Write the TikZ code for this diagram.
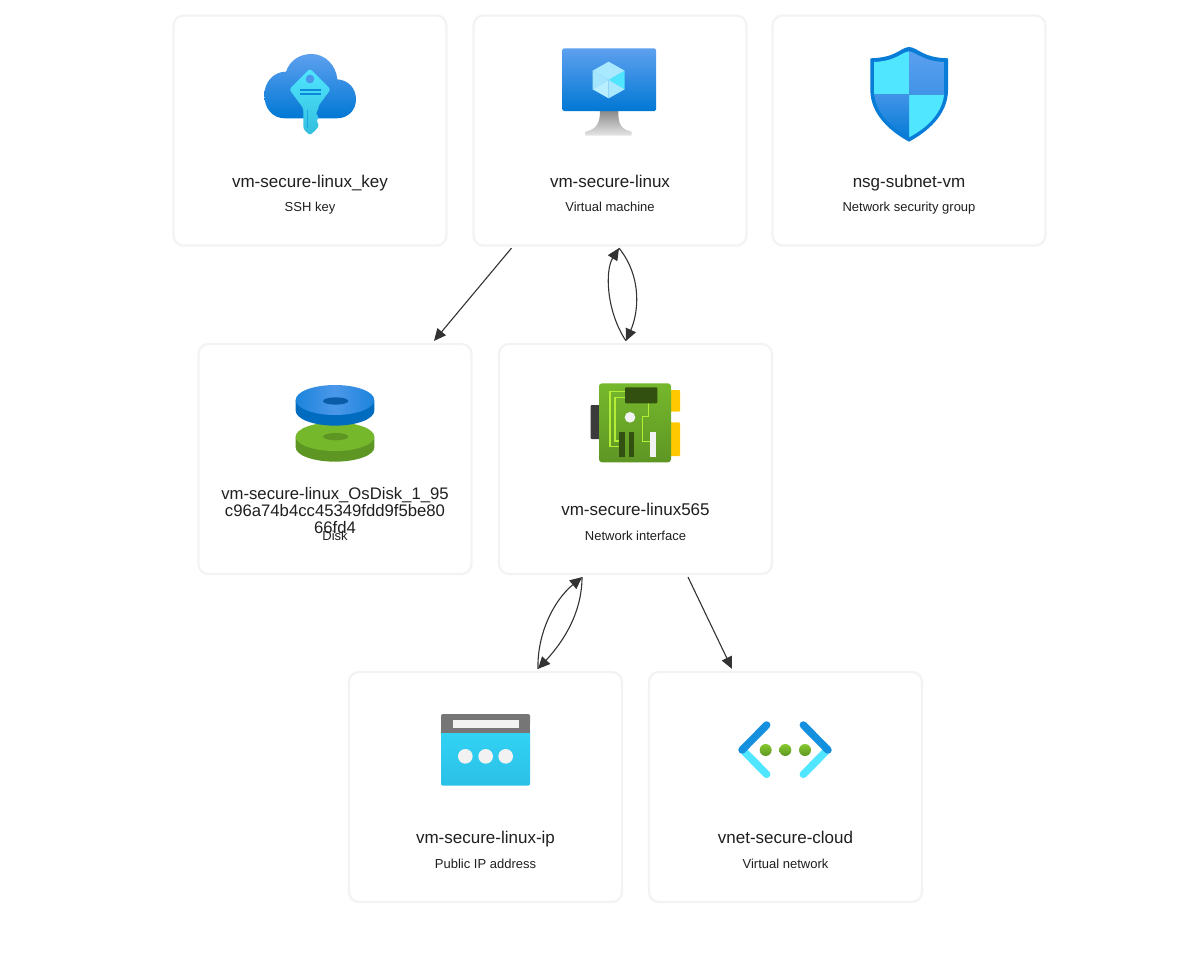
\documentclass[tikz,border=0pt]{standalone}
\usepackage{fontspec}
\setmainfont{Liberation Sans}
\usetikzlibrary{arrows.meta,calc}
\definecolor{cardline}{HTML}{F3F3F3}
\definecolor{txt}{HTML}{1F1F1F}
\definecolor{azlight}{HTML}{5EA0EF}
\definecolor{azblue}{HTML}{0078D4}
\definecolor{azcyan}{HTML}{50E6FF}
\definecolor{keybot}{HTML}{32BEDD}
\definecolor{arrowc}{HTML}{333333}
\definecolor{standA}{HTML}{8A8A8A}
\definecolor{standB}{HTML}{E6E6E6}
\definecolor{cubeA}{HTML}{A8E9FF}
\definecolor{cubeB}{HTML}{A3E6FD}
\definecolor{cubeC}{HTML}{B8EEFF}
\definecolor{diskgL}{HTML}{76B82C}
\definecolor{diskgD}{HTML}{5E9624}
\definecolor{diskhole}{HTML}{0A5CA8}
\definecolor{nicdark}{HTML}{3B3B3B}
\definecolor{nicyellow}{HTML}{FFC800}
\definecolor{nicbot}{HTML}{5E9624}
\definecolor{niclime}{HTML}{B4EC36}
\definecolor{nicchip}{HTML}{32500F}
\definecolor{iconwhite}{HTML}{F2F2F2}
\definecolor{ipA}{HTML}{32D4F5}
\definecolor{ipB}{HTML}{2BC0E6}
\definecolor{nicgray}{HTML}{767676}
\definecolor{vnetblue}{HTML}{1490DF}
\definecolor{dotA}{HTML}{86C92F}
\tikzset{
  azcardbox/.style={draw=cardline,line width=2.2pt,fill=white,rounded corners=10pt,minimum width=273pt,minimum height=230pt,inner sep=0pt},
  cardtitle/.style={anchor=base,text=txt,font=\fontsize{17}{17}\selectfont,align=center,inner sep=0pt},
  cardsub/.style={anchor=base,text=txt,font=\fontsize{13}{14}\selectfont,inner sep=0pt},
  conn/.style={draw=arrowc,line width=1.1pt,-{Triangle[length=12pt,width=11pt]}},
  iconscope/.style={shift={#1},scale=1/3}
}
\newcommand{\azcard}[5]{%
  \node[azcardbox] (#1) at (#2,#3) {};
  \node[cardtitle] (#1title) at (#2,#3+56.5) {#4};
  \node[cardsub] (#1sub) at (#2,#3+81) {#5};
}
\begin{document}
\begin{tikzpicture}[x=1pt,y=-1pt]
\fill[white] (0,0) rectangle (1200,980);
\useasboundingbox (0,0) rectangle (1200,980);

\azcard{key}{310}{130.5}{vm-secure-linux\_key}{SSH key}
\azcard{vm}{610}{130.5}{vm-secure-linux}{Virtual machine}
\azcard{nsg}{909}{130.5}{nsg-subnet-vm}{Network security group}
\node[azcardbox] (disk) at (335,459) {};
\node[cardtitle,font=\fontsize{16.7}{17}\selectfont] (disktitle) at (335,533) {vm-secure-linux\_OsDisk\_1\_95\\c96a74b4cc45349fdd9f5be80\\66fd4};
\node[cardsub] (disksub) at (335,540) {Disk};
\azcard{nic}{635.5}{459}{vm-secure-linux565}{Network interface}
\azcard{ip}{485.5}{787}{vm-secure-linux-ip}{Public IP address}
\azcard{vnet}{785.5}{787}{vnet-secure-cloud}{Virtual network}

% connectors
\coordinate (vmA) at ([xshift=-98.5pt,yshift=-1.5pt]vm.south);
\coordinate (diskA) at ([xshift=99pt,yshift=2pt]disk.north);
\draw[conn] (vmA) -- (diskA);
\coordinate (vmB) at ([xshift=9pt,yshift=-1.5pt]vm.south);
\coordinate (nicB) at ([xshift=-9.5pt,yshift=2pt]nic.north);
\draw[conn] (nicB) .. controls +(-20,-30) and +(-14,22) .. (vmB);
\draw[conn] (vmB) .. controls +(24,30) and +(12,-27) .. (nicB);
\coordinate (nicC) at ([xshift=-53.5pt,yshift=-2pt]nic.south);
\coordinate (ipC) at ([xshift=52.5pt,yshift=2pt]ip.north);
\draw[conn] (ipC) .. controls +(-1,-34) and +(-29,24) .. (nicC);
\draw[conn] (nicC) .. controls +(0,34) and +(27,-29) .. (ipC);
\coordinate (nicD) at ([xshift=52.5pt,yshift=-2pt]nic.south);
\coordinate (vnetD) at ([xshift=-53.5pt,yshift=2pt]vnet.north);
\draw[conn] (nicD) -- (vnetD);

% SSH key icon
\begin{scope}[iconscope={(250,30)}]
\shade[top color=azlight,bottom color=azblue] (105,265) .. controls (66,265) and (43,234) .. (43,195) .. controls (43,157) and (70,125) .. (108,125) .. controls (120,90) and (150,72) .. (185,72) .. controls (225,72) and (258,105) .. (262,148) .. controls (295,150) and (318,175) .. (318,208) .. controls (318,240) and (295,265) .. (260,265) -- cycle;
\shade[top color=azcyan,bottom color=keybot,rounded corners=2.5pt] (180,116) -- (242,178) -- (205,228) -- (205,240) -- (196,250) -- (208,262) -- (198,272) -- (208,285) -- (200,297) -- (180,316) -- (160,297) -- (160,235) -- (118,178) -- cycle;
\fill[azlight!80!azblue] (180,147) circle (13);
\draw[azblue!85!azcyan,line width=1.3pt] (150,180) -- (213,180) (150,192) -- (213,192);
\draw[azblue!60!azcyan,line width=1pt] (172,240) -- (172,295);
\end{scope}

% VM icon
\begin{scope}[iconscope={(550,35)}]
\shade[top color=standA,bottom color=standB] (150,228) -- (205,228) .. controls (205,265) and (210,282) .. (245,290) -- (245,302) -- (107,302) -- (107,290) .. controls (140,282) and (150,265) .. (150,228) -- cycle;
\shade[top color=azlight,bottom color=azblue,rounded corners=1.5pt] (37,40) rectangle (318,228);
\fill[cubeA] (128,107) -- (176,80) -- (224,107) -- (176,135) -- cycle;
\fill[azcyan] (224,107) -- (224,163) -- (176,135) -- cycle;
\fill[cubeB] (128,107) -- (128,163) -- (176,135) -- cycle;
\fill[cubeC] (128,163) -- (176,135) -- (176,190) -- cycle;
\fill[cubeA] (224,163) -- (176,135) -- (176,190) -- cycle;
\end{scope}

% NSG icon
\begin{scope}[iconscope={(855,35)}]
\fill[azblue!90!azlight] (162,36) .. controls (135,38) and (125,68) .. (46,70) -- (46,165) .. controls (46,240) and (110,292) .. (162,320) .. controls (215,292) and (279,240) .. (279,165) -- (279,70) .. controls (200,68) and (190,38) .. (162,36) -- cycle;
\begin{scope}
\clip (162,49) .. controls (138,52) and (125,78) .. (57,81) -- (57,165) .. controls (57,235) and (115,282) .. (162,307) .. controls (210,282) and (268,235) .. (268,165) -- (268,81) .. controls (200,78) and (186,52) .. (162,49) -- cycle;
\fill[azcyan] (40,30) rectangle (162,177);
\fill[azcyan] (162,177) rectangle (285,325);
\shade[top color=azlight,bottom color=azlight!70!azblue] (162,30) rectangle (285,177);
\shade[top color=azlight!70!azblue,bottom color=azblue] (40,177) rectangle (162,325);
\end{scope}
\end{scope}

% Disk icon
\begin{scope}[iconscope={(280,375)}]
\fill[diskgD] (47,185) -- (47,217) arc[start angle=180,end angle=0,x radius=118,y radius=43] -- (283,185) -- cycle;
\fill[diskgL] (165,185) ellipse [x radius=118,y radius=43];
\fill[diskgD] (167,185) ellipse [x radius=38,y radius=11];
\fill[azblue!90!black] (47,75) -- (47,107) arc[start angle=180,end angle=0,x radius=118,y radius=45] -- (283,75) -- cycle;
\shade[left color=azblue!70!azlight,right color=azblue!70!azlight,middle color=azlight!80!azblue] (165,75) ellipse [x radius=118,y radius=45];
\fill[diskhole] (167,78) ellipse [x radius=38,y radius=11];
\end{scope}

% NIC icon
\begin{scope}[iconscope={(580,375)}]
\fill[nicdark,rounded corners=1pt] (32,90) rectangle (60,192);
\fill[nicyellow,rounded corners=1pt] (268,45) rectangle (300,110);
\fill[nicyellow,rounded corners=1pt] (268,142) rectangle (300,243);
\shade[top color=diskgL,bottom color=nicbot,rounded corners=3pt] (57,25) rectangle (273,262);
\draw[niclime,line width=1.4pt] (135,50) -- (90,50) -- (90,215) -- (116,215);
\draw[niclime,line width=1.4pt] (135,68) -- (105,68) -- (105,198) -- (116,198);
\draw[niclime,line width=1.4pt] (205,85) -- (205,125) -- (187,125) -- (187,200) -- (211,200);
\fill[nicchip,rounded corners=1pt] (135,37) rectangle (232,85);
\fill[nicchip] (116,170) rectangle (134,247);
\fill[nicchip] (146,170) rectangle (163,247);
\fill[iconwhite] (211,170) rectangle (228,247);
\fill[iconwhite] (150,127) circle (16);
\end{scope}

% Public IP icon
\begin{scope}[iconscope={(430,705)}]
\shade[top color=ipA,bottom color=ipB,rounded corners=2pt] (33,70) rectangle (300,242);
\fill[nicgray,rounded corners=2pt] (33,27) rectangle (300,60);
\fill[nicgray] (33,50) rectangle (300,83);
\fill[iconwhite] (68,45) rectangle (266,68);
\fill[iconwhite] (106,154) circle (22);
\fill[iconwhite] (167,154) circle (22);
\fill[iconwhite] (227,154) circle (22);
\end{scope}

% Virtual network icon
\begin{scope}[iconscope={(730,710)}]
\draw[azcyan,line width=7.5pt,line cap=round] (45,127) -- (110,193);
\draw[azcyan,line width=7.5pt,line cap=round] (285,127) -- (220,193);
\draw[vnetblue,line width=7.5pt,line cap=round] (110,45) -- (36,120);
\draw[vnetblue,line width=7.5pt,line cap=round] (220,45) -- (294,120);
\foreach \cx in {107,166,225}{
  \shade[top color=dotA,bottom color=nicbot] (\cx,120) circle (18);
}
\end{scope}
\end{tikzpicture}
\end{document}
